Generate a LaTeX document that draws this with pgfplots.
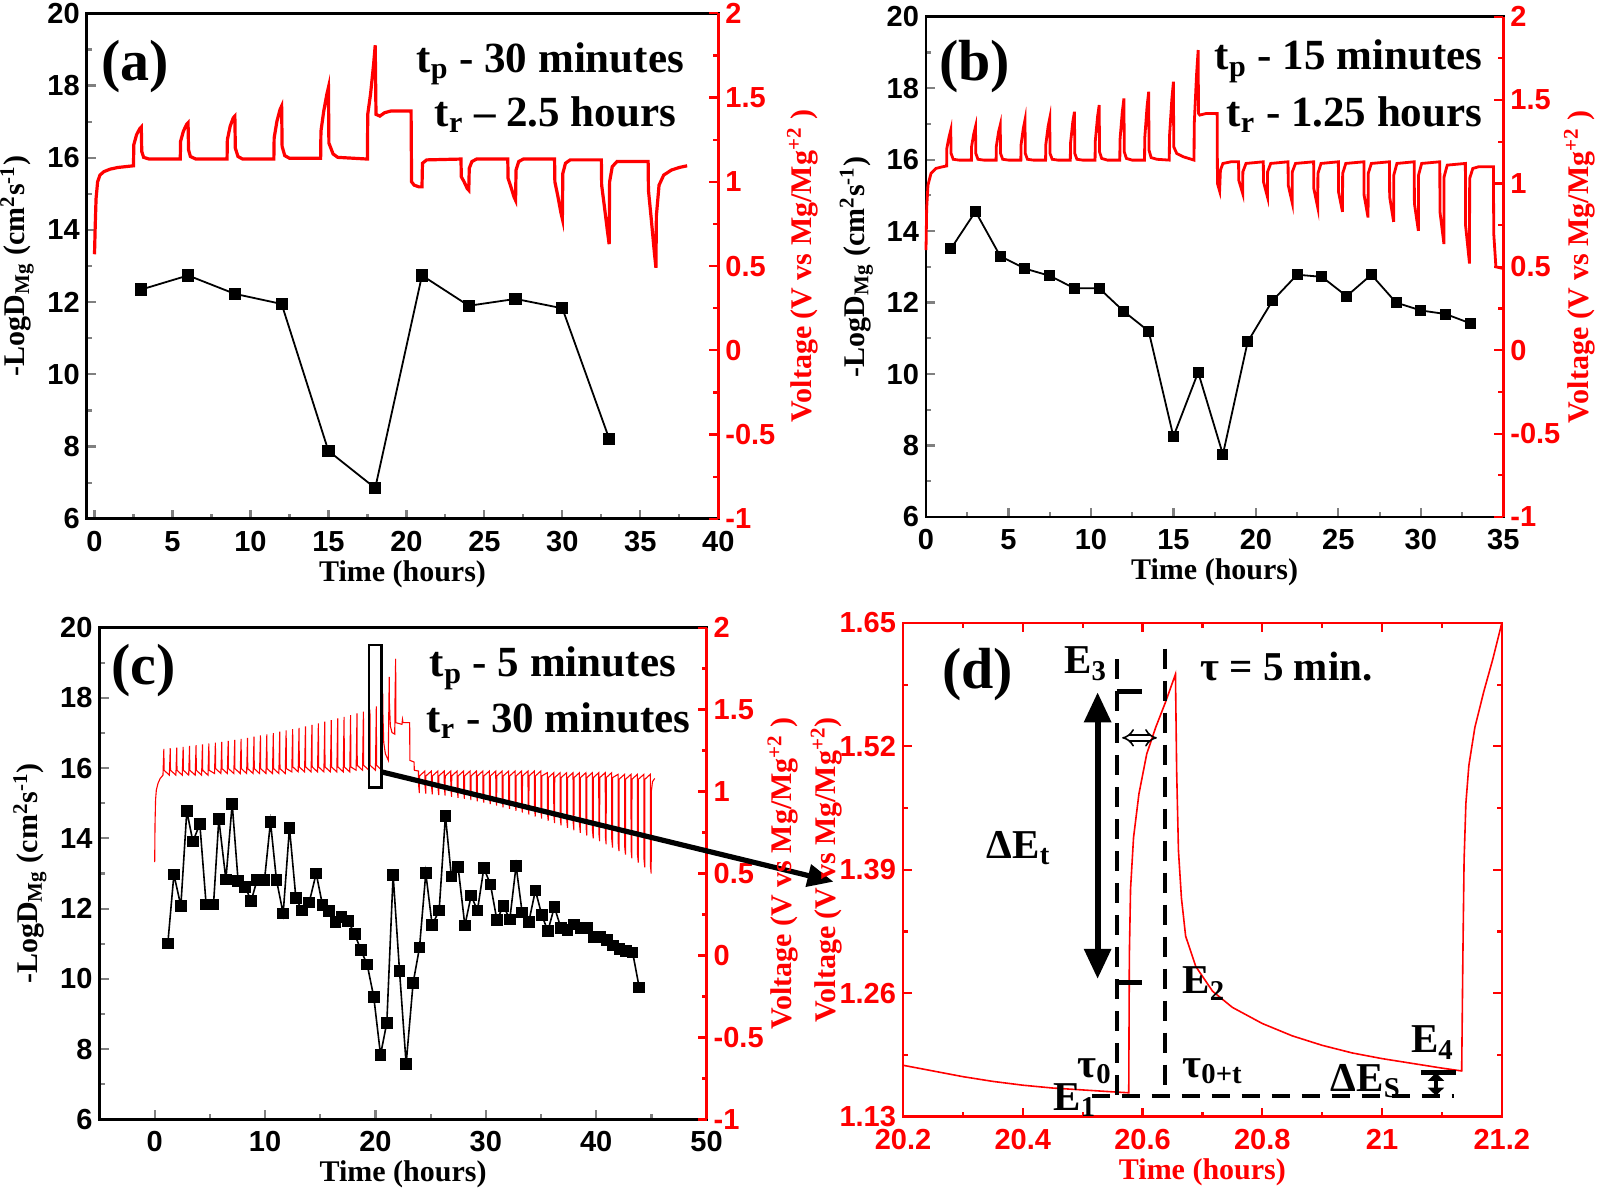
\documentclass[border=0pt]{standalone}
\usepackage{pgfplots}
\pgfplotsset{compat=1.18}
\usepackage{fontspec}
\setmainfont{Liberation Serif}
\setsansfont{Liberation Sans}
\usetikzlibrary{arrows.meta}
\newcommand\tickfont{\sffamily\bfseries\fontsize{14.5}{16}\selectfont}
\newcommand\labfont{\bfseries\fontsize{15}{17}\selectfont}
\newcommand\annfont{\bfseries\fontsize{21.5}{24}\selectfont}
\newcommand\dfont{\bfseries\fontsize{20.5}{23}\selectfont}
\newcommand\panfont{\bfseries\fontsize{29}{32}\selectfont}
\pgfplotsset{
  every axis/.append style={
    scale only axis,
    axis line style={line width=1.4pt},
    tick align=inside,
    major tick length=4.5pt, minor tick length=2.5pt,
    tick style={line width=1.1pt},
    tick label style={font=\tickfont},
    xticklabel style={yshift=-2.6pt},
    label style={font=\labfont},
    xlabel style={yshift=2.4pt},
    /pgf/number format/assume math mode=true,
  },
  leftax/.style={xtick pos=left, ytick pos=left, ymin=6, ymax=20,
    ytick={6,8,10,12,14,16,18,20}, minor y tick num=1, minor x tick num=1,
    xlabel={Time (hours)},
    ylabel={-LogD\textsubscript{Mg} (cm\textsuperscript{2}s\textsuperscript{-1})},
    clip=false},
  rightax/.style={axis y line*=right, axis x line=none, ymin=-1, ymax=2,
    ytick={-1,-0.5,0,0.5,1,1.5,2}, minor y tick num=1,
    y axis line style={red}, ytick style={draw=red}, yticklabel style={red},
    ylabel={Voltage (V vs Mg/Mg\textsuperscript{+2} )}, ylabel style={red},
    clip=false},
  blk/.style={black, line width=0.9pt, mark=square*, mark size=2.6pt, mark options={solid}},
}
\begin{document}
\begin{tikzpicture}
\useasboundingbox (0,0) rectangle (800pt,595.5pt);
% ---------------- (a)
\begin{axis}[leftax, at={(43.35pt,336.1pt)}, anchor=south west, width=315.8pt, height=252.75pt,
  xmin=-0.5, xmax=40, xtick={0,5,...,40}]
\addplot[blk] coordinates {(3,12.35)(6,12.74)(9,12.23)(12,11.95)(15,7.88)(18,6.85)(21,12.74)(24,11.9)(27,12.09)(30,11.83)(33,8.22)};
\node[font=\panfont] at (axis cs:2.6,18.53) {(a)};
\node[font=\annfont, anchor=east] at (axis cs:38.25,18.61) {t\textsubscript{p} - 30 minutes};
\node[font=\annfont, anchor=east] at (axis cs:37.75,17.2) {t\textsubscript{r} -- 2.5 hours};
\end{axis}
\begin{axis}[rightax, at={(43.35pt,336.1pt)}, anchor=south west, width=315.8pt, height=252.75pt,
  xmin=-0.5, xmax=40, ylabel shift=-1pt]
\addplot[red, line width=1.6pt] coordinates {
(0,0.57)(0.05,0.75)(0.1,0.9)(0.2,1.0)(0.35,1.04)(0.6,1.06)(1.0,1.075)(1.5,1.085)(2.0,1.09)(2.5,1.095)
(2.52,1.22)(2.7,1.28)(2.9,1.315)(3.0,1.325)(3.03,1.18)(3.15,1.145)(3.5,1.135)(5.5,1.135)
(5.52,1.24)(5.7,1.30)(5.9,1.34)(6.0,1.35)(6.03,1.19)(6.15,1.15)(6.5,1.135)(8.5,1.135)
(8.52,1.25)(8.7,1.33)(8.9,1.38)(9.0,1.39)(9.03,1.2)(9.2,1.15)(9.5,1.135)(11.5,1.135)
(11.52,1.26)(11.7,1.36)(11.9,1.43)(12.0,1.45)(12.03,1.21)(12.2,1.155)(12.5,1.14)(14.5,1.14)
(14.52,1.3)(14.7,1.42)(14.9,1.52)(15.0,1.56)(15.03,1.23)(15.3,1.165)(15.6,1.145)(17.5,1.135)
(17.52,1.4)(17.7,1.52)(17.9,1.7)(18.0,1.81)(18.05,1.40)(18.3,1.39)(18.6,1.41)(19.0,1.42)(20.3,1.42)
(20.33,1.0)(20.5,0.98)(20.8,0.97)(21.0,0.97)(21.03,1.11)(21.3,1.13)(23.5,1.135)
(23.52,1.03)(23.7,1.0)(23.9,0.96)(24.0,0.95)(24.03,1.08)(24.2,1.12)(24.5,1.135)(26.5,1.135)
(26.52,1.02)(26.7,0.97)(26.9,0.91)(27.0,0.89)(27.03,1.07)(27.2,1.12)(27.5,1.135)(29.5,1.135)
(29.52,1.0)(29.7,0.92)(29.9,0.82)(30.0,0.78)(30.03,1.05)(30.2,1.11)(30.5,1.13)(32.5,1.13)
(32.52,0.98)(32.7,0.85)(32.9,0.7)(33.0,0.63)(33.03,1.0)(33.2,1.09)(33.5,1.12)(35.5,1.12)
(35.52,0.95)(35.7,0.78)(35.9,0.58)(36.0,0.49)(36.03,0.8)(36.2,0.98)(36.5,1.04)(37.0,1.07)(37.5,1.085)(38.0,1.095)};
\end{axis}
% ---------------- (b)
\begin{axis}[leftax, at={(463pt,337pt)}, anchor=south west, width=288.65pt, height=250.15pt,
  xmin=0, xmax=35, xtick={0,5,...,35}]
\addplot[blk, mark size=2.3pt] coordinates {(1.5,13.5)(3,14.55)(4.5,13.3)(6,12.95)(7.5,12.75)(9,12.4)(10.5,12.4)(12,11.75)(13.5,11.2)(15,8.25)(16.5,10.05)(18,7.75)(19.5,10.9)(21,12.05)(22.5,12.78)(24,12.72)(25.5,12.18)(27,12.78)(28.5,12.0)(30,11.78)(31.5,11.68)(33,11.42)};
\node[font=\panfont] at (axis cs:2.94,18.61) {(b)};
\node[font=\annfont, anchor=east] at (axis cs:34.15,18.75) {t\textsubscript{p} - 15 minutes};
\node[font=\annfont, anchor=east] at (axis cs:34.15,17.27) {t\textsubscript{r} - 1.25 hours};
\end{axis}
\begin{axis}[rightax, at={(463pt,337pt)}, anchor=south west, width=288.65pt, height=250.15pt,
  xmin=0, xmax=35, ylabel shift=-5pt]
\addplot[red, line width=1.4pt] coordinates {
(0,0.60)(0.04,0.85)(0.12,0.99)(0.3,1.06)(0.6,1.09)(1.0,1.10)(1.25,1.105)
(1.26,1.21)(1.4,1.28)(1.5,1.32)(1.52,1.18)(1.65,1.145)(2.0,1.14)(2.75,1.14)
(2.76,1.22)(2.9,1.30)(3.0,1.34)(3.02,1.18)(3.15,1.145)(3.5,1.14)(4.25,1.14)
(4.26,1.22)(4.4,1.31)(4.5,1.35)(4.52,1.18)(4.65,1.145)(5.0,1.14)(5.75,1.14)
(5.76,1.23)(5.9,1.33)(6.0,1.38)(6.02,1.18)(6.15,1.145)(6.5,1.14)(7.25,1.14)
(7.26,1.23)(7.4,1.34)(7.5,1.39)(7.52,1.18)(7.65,1.145)(8.0,1.14)(8.75,1.14)
(8.76,1.24)(8.9,1.37)(9.0,1.43)(9.02,1.18)(9.15,1.145)(9.5,1.14)(10.25,1.14)
(10.26,1.25)(10.4,1.40)(10.5,1.47)(10.52,1.19)(10.65,1.15)(11.0,1.14)(11.75,1.14)
(11.76,1.26)(11.9,1.43)(12.0,1.51)(12.02,1.19)(12.15,1.15)(12.5,1.14)(13.25,1.14)
(13.26,1.27)(13.4,1.46)(13.5,1.55)(13.52,1.20)(13.65,1.155)(14.0,1.145)(14.75,1.14)
(14.76,1.28)(14.9,1.50)(15.0,1.61)(15.02,1.22)(15.2,1.18)(15.6,1.16)(16.25,1.14)
(16.26,1.35)(16.4,1.65)(16.5,1.80)(16.52,1.42)(16.6,1.41)(17.0,1.42)(17.65,1.42)
(17.67,1.0)(17.8,0.955)(17.85,1.08)(18.0,1.12)(18.5,1.13)(18.95,1.13)
(18.96,1.02)(19.2,0.94)(19.21,1.07)(19.4,1.12)(20.45,1.13)
(20.46,1.01)(20.7,0.92)(20.71,1.07)(20.9,1.12)(21.95,1.13)
(21.96,0.99)(22.2,0.886)(22.21,1.07)(22.4,1.12)(23.5,1.13)
(23.51,0.97)(23.75,0.856)(23.76,1.06)(23.95,1.12)(25.0,1.13)
(25.01,0.95)(25.25,0.83)(25.26,1.06)(25.45,1.12)(26.55,1.13)
(26.56,0.93)(26.8,0.796)(26.81,1.06)(27.0,1.12)(28.1,1.13)
(28.11,0.92)(28.35,0.77)(28.36,1.05)(28.55,1.12)(29.6,1.13)
(29.61,0.88)(29.85,0.716)(29.86,1.05)(30.05,1.12)(31.15,1.13)
(31.16,0.83)(31.4,0.637)(31.41,1.04)(31.6,1.11)(32.7,1.12)
(32.71,0.75)(32.95,0.52)(32.96,1.03)(33.15,1.09)(33.5,1.10)(34.4,1.10)
(34.42,0.7)(34.55,0.5)(35,0.49)};
\end{axis}
% ---------------- (c)
\begin{axis}[leftax, at={(49.75pt,35.8pt)}, anchor=south west, width=303.55pt, height=245.9pt,
  xmin=-5, xmax=50, xtick={0,10,...,50}, minor xtick={-5,5,...,45}]
\addplot[blk, line width=0.8pt, mark size=2.5pt] coordinates {(1.19,11.01)(1.74,12.97)(2.37,12.08)(2.91,14.78)(3.46,13.91)(4.09,14.41)(4.66,12.12)(5.33,12.12)(5.81,14.55)(6.45,12.83)(7.02,14.98)(7.56,12.78)(8.20,12.62)(8.74,12.22)(9.28,12.82)(9.95,12.82)(10.49,14.47)(11.03,12.82)(11.64,11.86)(12.21,14.3)(12.79,12.31)(13.33,11.95)(13.99,12.17)(14.63,13.0)(15.2,12.11)(15.78,11.94)(16.38,11.62)(16.92,11.77)(17.53,11.64)(18.13,11.27)(18.68,10.82)(19.25,10.41)(19.85,9.48)(20.46,7.84)(21.03,8.75)(21.6,12.96)(22.18,10.23)(22.78,7.58)(23.41,9.88)(23.99,10.89)(24.56,13.01)(25.14,11.53)(25.77,11.95)(26.34,14.64)(26.88,12.91)(27.49,13.18)(28.1,11.52)(28.67,12.37)(29.24,11.95)(29.82,13.15)(30.42,12.69)(31.0,11.68)(31.6,12.08)(32.17,11.69)(32.74,13.22)(33.29,11.89)(33.89,11.62)(34.49,12.52)(35.07,11.82)(35.62,11.36)(36.21,12.05)(36.8,11.45)(37.4,11.4)(38.0,11.55)(38.6,11.45)(39.2,11.45)(39.8,11.2)(40.4,11.2)(41.0,11.1)(41.5,10.95)(42.1,10.85)(42.7,10.8)(43.3,10.75)(43.9,9.75)};
\node[font=\panfont] at (axis cs:-1.01,18.78) {(c)};
\node[font=\annfont, anchor=west] at (axis cs:24.3,18.84) {t\textsubscript{p} - 5 minutes};
\node[font=\annfont, anchor=west] at (axis cs:24.0,17.36) {t\textsubscript{r} - 30 minutes};
\end{axis}
\begin{axis}[rightax, at={(49.75pt,35.8pt)}, anchor=south west, width=303.55pt, height=245.9pt,
  xmin=-5, xmax=50, ylabel shift=-5pt]
\addplot[red, line width=0.55pt] coordinates {
(0,0.57)(0.03,0.8)(0.08,0.95)(0.15,1.01)(0.3,1.05)(0.5,1.08)
(0.75,1.10)(0.83,1.26)(0.85,1.13)(1.33,1.10)(1.41,1.264)(1.43,1.13)(1.92,1.10)(2.00,1.268)(2.02,1.13)
(2.50,1.10)(2.58,1.273)(2.60,1.13)(3.08,1.10)(3.16,1.278)(3.18,1.13)(3.67,1.10)(3.75,1.283)(3.77,1.13)
(4.25,1.10)(4.33,1.288)(4.35,1.13)(4.83,1.10)(4.91,1.293)(4.93,1.13)(5.42,1.11)(5.50,1.298)(5.52,1.14)
(6.00,1.11)(6.08,1.303)(6.10,1.14)(6.58,1.11)(6.66,1.309)(6.68,1.14)(7.17,1.11)(7.25,1.315)(7.27,1.14)
(7.75,1.11)(7.83,1.321)(7.85,1.14)(8.33,1.11)(8.41,1.328)(8.43,1.14)(8.92,1.11)(9.00,1.335)(9.02,1.14)
(9.50,1.11)(9.58,1.342)(9.60,1.14)(10.08,1.11)(10.16,1.349)(10.18,1.14)(10.67,1.11)(10.75,1.357)(10.77,1.14)
(11.25,1.11)(11.33,1.365)(11.35,1.14)(11.83,1.11)(11.91,1.373)(11.93,1.14)(12.42,1.12)(12.50,1.381)(12.52,1.15)
(13.00,1.12)(13.08,1.389)(13.10,1.15)(13.58,1.12)(13.66,1.398)(13.68,1.15)(14.17,1.12)(14.25,1.407)(14.27,1.15)
(14.75,1.12)(14.83,1.416)(14.85,1.15)(15.33,1.12)(15.41,1.426)(15.43,1.15)(15.92,1.12)(16.00,1.436)(16.02,1.15)
(16.50,1.12)(16.58,1.446)(16.60,1.15)(17.08,1.12)(17.16,1.456)(17.18,1.15)(17.67,1.12)(17.75,1.466)(17.77,1.15)
(18.25,1.13)(18.33,1.477)(18.35,1.16)(18.83,1.13)(18.91,1.488)(18.93,1.16)(19.42,1.13)(19.50,1.50)(19.52,1.16)
(20.00,1.13)(20.08,1.52)(20.10,1.16)
(20.58,1.13)(20.59,1.30)(20.66,1.597)(20.67,1.49)(20.75,1.30)(20.9,1.23)(21.17,1.19)
(21.18,1.33)(21.25,1.70)(21.26,1.55)(21.35,1.40)(21.5,1.36)(21.75,1.35)
(21.76,1.50)(21.83,1.81)(21.85,1.42)(22.4,1.41)(22.45,1.44)(22.5,1.42)(23.1,1.42)(23.12,1.19)(23.5,1.18)(23.52,1.13)
(23.90,1.125)(23.91,1.04)(23.98,0.99)(23.99,1.095)(24.48,1.125)(24.49,1.037)(24.56,0.987)(24.57,1.095)
(25.07,1.125)(25.08,1.033)(25.15,0.983)(25.16,1.095)(25.65,1.125)(25.66,1.029)(25.73,0.979)(25.74,1.095)
(26.23,1.125)(26.24,1.025)(26.31,0.975)(26.32,1.095)(26.82,1.125)(26.83,1.018)(26.90,0.968)(26.91,1.095)
(27.40,1.125)(27.41,1.012)(27.48,0.962)(27.49,1.095)(27.98,1.125)(27.99,1.006)(28.06,0.956)(28.07,1.095)
(28.57,1.125)(28.58,0.998)(28.65,0.948)(28.66,1.095)(29.15,1.125)(29.16,0.99)(29.23,0.94)(29.24,1.095)
(29.73,1.125)(29.74,0.982)(29.81,0.932)(29.82,1.095)(30.32,1.125)(30.33,0.973)(30.40,0.923)(30.41,1.095)
(30.90,1.125)(30.91,0.964)(30.98,0.914)(30.99,1.095)(31.48,1.125)(31.49,0.954)(31.56,0.904)(31.57,1.095)
(32.07,1.125)(32.08,0.944)(32.15,0.894)(32.16,1.095)(32.65,1.125)(32.66,0.933)(32.73,0.883)(32.74,1.095)
(33.23,1.125)(33.24,0.922)(33.31,0.872)(33.32,1.095)(33.82,1.125)(33.83,0.91)(33.90,0.86)(33.91,1.095)
(34.40,1.125)(34.41,0.898)(34.48,0.848)(34.49,1.095)(34.98,1.125)(34.99,0.885)(35.06,0.835)(35.07,1.095)
(35.57,1.115)(35.58,0.872)(35.65,0.822)(35.66,1.085)(36.15,1.115)(36.16,0.858)(36.23,0.808)(36.24,1.085)
(36.73,1.115)(36.74,0.844)(36.81,0.794)(36.82,1.085)(37.32,1.115)(37.33,0.829)(37.40,0.779)(37.41,1.085)
(37.90,1.115)(37.91,0.814)(37.98,0.764)(37.99,1.085)(38.48,1.115)(38.49,0.798)(38.56,0.748)(38.57,1.085)
(39.07,1.115)(39.08,0.782)(39.15,0.732)(39.16,1.085)(39.65,1.115)(39.66,0.765)(39.73,0.715)(39.74,1.085)
(40.23,1.115)(40.24,0.747)(40.31,0.697)(40.32,1.085)(40.82,1.115)(40.83,0.728)(40.90,0.678)(40.91,1.085)
(41.40,1.115)(41.41,0.708)(41.48,0.658)(41.49,1.085)(41.98,1.105)(41.99,0.687)(42.06,0.637)(42.07,1.075)
(42.57,1.105)(42.58,0.665)(42.65,0.615)(42.66,1.075)(43.15,1.105)(43.16,0.642)(43.23,0.592)(43.24,1.075)
(43.73,1.105)(43.74,0.617)(43.81,0.567)(43.82,1.075)(44.32,1.105)(44.33,0.587)(44.40,0.537)(44.41,1.075)
(44.90,1.105)(44.91,0.55)(44.98,0.50)(44.99,1.0)(45.1,1.06)(45.3,1.08)};
\draw[line width=1.2pt] (axis cs:19.4,1.025) rectangle (axis cs:20.55,1.893);
\draw[line width=2.6pt, -{Triangle[length=13pt,width=11pt]}] (axis cs:20.55,1.12) -- (axis cs:61.5,0.45);
\end{axis}
% ---------------- (d)
\begin{axis}[at={(451.5pt,37.25pt)}, anchor=south west, width=299.4pt, height=246.75pt,
  xmin=20.2, xmax=21.2, ymin=1.13, ymax=1.65,
  xtick={20.2,20.4,20.6,20.8,21,21.2}, minor x tick num=1,
  ytick={1.13,1.26,1.39,1.52,1.65}, minor y tick num=1,
  axis line style={red, line width=1.2pt}, tick style={draw=red}, tick label style={red},
  xlabel={Time (hours)}, ylabel={Voltage (V vs Mg/Mg\textsuperscript{+2})}, label style={red},
  ylabel shift=-8pt,
  clip=false]
\addplot[red, line width=0.8pt] coordinates {
(20.2,1.184)(20.25,1.178)(20.3,1.172)(20.35,1.167)(20.4,1.163)(20.45,1.16)(20.5,1.158)(20.55,1.156)(20.577,1.155)
(20.578,1.30)(20.580,1.37)(20.585,1.424)(20.594,1.47)(20.607,1.512)(20.622,1.54)(20.638,1.566)(20.655,1.596)
(20.657,1.494)(20.660,1.41)(20.665,1.36)(20.672,1.32)(20.689,1.288)(20.717,1.262)(20.75,1.245)(20.8,1.228)(20.85,1.215)(20.9,1.205)(20.95,1.197)(21.0,1.191)(21.05,1.186)(21.1,1.181)(21.133,1.178)
(21.135,1.30)(21.137,1.40)(21.14,1.46)(21.145,1.50)(21.155,1.54)(21.17,1.578)(21.185,1.612)(21.2,1.65)};
\draw[line width=2pt, dash pattern=on 10pt off 6pt] (axis cs:20.557,1.612) -- (axis cs:20.557,1.152);
\draw[line width=2pt, dash pattern=on 10pt off 6pt] (axis cs:20.638,1.623) -- (axis cs:20.638,1.152);
\draw[line width=2pt, dash pattern=on 9pt off 6pt] (axis cs:20.515,1.152) -- (axis cs:21.12,1.152);
\draw[line width=2.4pt] (axis cs:20.557,1.578) -- (axis cs:20.599,1.578);
\draw[line width=2.4pt] (axis cs:20.557,1.271) -- (axis cs:20.599,1.271);
\draw[line width=3pt, {Triangle[length=15pt,width=13pt]}-{Triangle[length=15pt,width=13pt]}] (axis cs:20.525,1.577) -- (axis cs:20.525,1.275);
\draw[line width=0.8pt, double, double distance=2.2pt, {Implies}-{Implies}] (axis cs:20.566,1.529) -- (axis cs:20.624,1.529);
\draw[line width=2.6pt] (axis cs:21.065,1.176) -- (axis cs:21.124,1.176);
\draw[line width=2pt, {Triangle[length=4pt,width=8pt]}-{Triangle[length=4pt,width=8pt]}] (axis cs:21.09,1.152) -- (axis cs:21.09,1.176);
\node[font=\panfont] at (axis cs:20.325,1.596) {(d)};
\node[font=\dfont] at (axis cs:20.505,1.607) {E\textsubscript{3}};
\node[font=\dfont, anchor=west] at (axis cs:20.685,1.604) {τ = 5 min.};
\node[font=\dfont] at (axis cs:20.393,1.413) {ΔE\textsubscript{t}};
\node[font=\dfont, anchor=west] at (axis cs:20.655,1.27) {E\textsubscript{2}};
\node[font=\dfont] at (axis cs:20.52,1.178) {τ\textsubscript{0}};
\node[font=\dfont, anchor=west] at (axis cs:20.655,1.178) {τ\textsubscript{0+t}};
\node[font=\dfont] at (axis cs:20.487,1.147) {E\textsubscript{1}};
\node[font=\dfont] at (axis cs:21.084,1.208) {E\textsubscript{4}};
\node[font=\dfont] at (axis cs:20.973,1.167) {ΔE\textsubscript{S}};
\end{axis}
\end{tikzpicture}
\end{document}
